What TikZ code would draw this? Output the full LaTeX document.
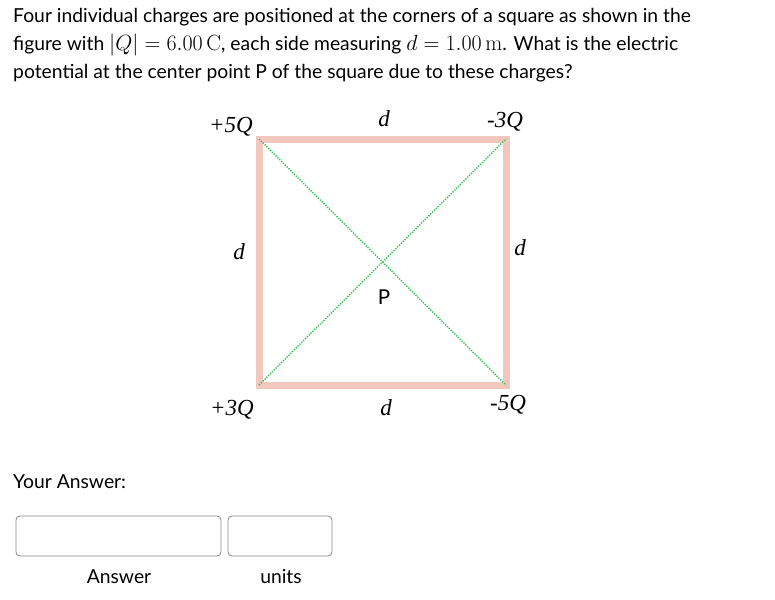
\RequirePackage{fix-cm}
\documentclass[tikz,border=0pt]{standalone}
\usepackage[no-math]{fontspec}
\setmainfont{Lato}
\newfontfamily\figfont{Liberation Serif}
\usetikzlibrary{positioning}
\definecolor{sqpink}{RGB}{242,200,190}
\definecolor{diaggreen}{RGB}{60,195,90}
\definecolor{boxgray}{RGB}{135,135,135}
\tikzstyle{side} = [line width=7pt, color=sqpink]
\tikzstyle{diagonal} = [line width=1.4pt, dash pattern=on 1.4pt off 1.2pt, color=diaggreen]
\tikzstyle{charge} = [anchor=base, inner sep=0pt, font=\figfont\itshape\fontsize{23}{26}\selectfont]
\tikzstyle{textline} = [anchor=base west, inner sep=0pt, font=\fontsize{19.3}{23}\selectfont]
\tikzstyle{answerbox} = [rectangle, rounded corners=4pt, draw=boxgray, thick, minimum height=40pt]
\newcommand{\bigmath}[1]{{\fontsize{22}{24}\selectfont$#1$}}

\begin{document}
\begin{tikzpicture}[x=1pt, y=-1pt]
\useasboundingbox (0,0) rectangle (775,599);

% Question text
\node (line1) [textline] at (13,23) {Four individual charges are positioned at the corners of a square as shown in the};
\node (line2) [textline] at (13,51) {figure with \bigmath{|Q| = 6.00\,\mathrm{C}}, each side measuring \bigmath{d = 1.00\,\mathrm{m}}. What is the electric};
\node (line3) [textline] at (13,79) {potential at the center point P of the square due to these charges?};

% Square corners
\coordinate (tl) at (259,139);
\coordinate (tr) at (506,139);
\coordinate (br) at (506,385);
\coordinate (bl) at (259,385);

% Square sides
\draw [side] (tl) -- (tr) -- (br) -- (bl) -- cycle;

% Diagonals
\draw [diagonal] (tl) -- (br);
\draw [diagonal] (bl) -- (tr);

% Charges
\node (qtl) [charge] at (231,132) {+5Q};
\node (qtr) [charge] at (505,128) {-3Q};
\node (qbl) [charge] at (232,415) {+3Q};
\node (qbr) [charge] at (508,410) {-5Q};

% Side labels
\node (dtop) [charge] at (384,126) {d};
\node (dleft) [charge] at (239,259) {d};
\node (dright) [charge] at (520,255) {d};
\node (dbottom) [charge] at (386,415) {d};

% Center point
\node (P) [anchor=base, inner sep=0pt, font=\fontsize{20.5}{24}\selectfont] at (384,304) {P};

% Answer fields
\node (your) [textline] at (13,488) {Your Answer:};
\node (answer) [answerbox, minimum width=205pt] at (118.5,536) {};
\node (units) [answerbox, minimum width=104pt] at (280,536) {};
\node (answerlabel) [textline, anchor=base] at (119,583) {Answer};
\node (unitslabel) [textline, anchor=base] at (281,583) {units};

\end{tikzpicture}
\end{document}
